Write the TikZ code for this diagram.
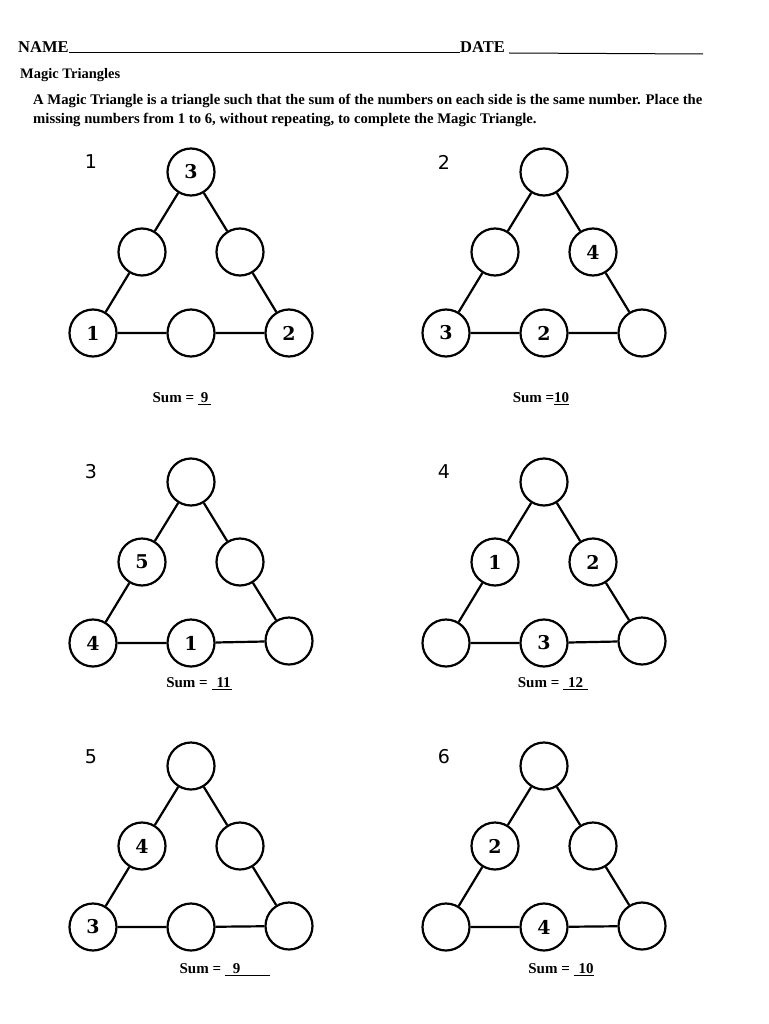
\documentclass[tikz,border=0pt]{standalone}
\usepackage{fontspec}
\setmainfont{Liberation Serif}
\newfontfamily\numfont{DejaVu Sans}
\newfontfamily\circfont{DejaVu Serif}
\tikzset{
  ball/.style={circle,draw,line width=2.2pt,minimum size=47pt,inner sep=0pt,font=\circfont\bfseries\fontsize{19}{19}\selectfont},
  edge/.style={line width=2.2pt},
  idx/.style={font=\numfont\fontsize{19}{19}\selectfont},
  sumlab/.style={font=\bfseries\fontsize{15}{15}\selectfont}
}
\newcommand\magictri[8]{%
  \node[ball] (#1t) at (#2,-#3) {#4};
  \node[ball] (#1ml) at (#2-49,-#3-80) {#5};
  \node[ball] (#1mr) at (#2+49,-#3-80) {#6};
  \node[ball] (#1bl) at (#2-98,-#3-161) {#7};
  \node[ball] (#1bm) at (#2,-#3-161) {#8};
}
\begin{document}
\begin{tikzpicture}[x=1pt,y=1pt]
\useasboundingbox (0,0) rectangle (768,-1024);
% header
\node[anchor=base west,inner sep=0pt,font=\bfseries\fontsize{16.5}{16.5}\selectfont] (name) at (18,-53) {NAME};
\node[anchor=base west,inner sep=0pt,font=\bfseries\fontsize{16.5}{16.5}\selectfont] (date) at (460,-53) {DATE};
\draw[line width=1pt] (name.base east) -- (date.base west);
\coordinate (dend) at (703,-54);
\draw[line width=1pt] ([xshift=4pt]date.base east) -- (dend);
\node[anchor=base west,inner sep=0pt,font=\bfseries\fontsize{14.5}{14.5}\selectfont] (title) at (20,-79) {Magic Triangles};
\node[anchor=north west,align=left,inner sep=0pt,font=\bfseries\fontsize{14.7}{18.5}\selectfont] (para) at (33,-94)
 {A Magic Triangle is a triangle such that the sum of the numbers on each side is the same number. Place the\\missing numbers from 1 to 6, without repeating, to complete the Magic Triangle.};

% triangles
\magictri{a}{191}{172}{3}{}{}{1}{}
\node[ball] (abr) at (289,-333) {2};
\magictri{b}{544}{172}{}{}{4}{3}{2}
\node[ball] (bbr) at (642,-333) {};
\magictri{c}{191}{482}{}{5}{}{4}{1}
\node[ball] (cbr) at (289,-641) {};
\magictri{d}{544}{482}{}{1}{2}{}{3}
\node[ball] (dbr) at (642,-641) {};
\magictri{e}{191}{766}{}{4}{}{3}{}
\node[ball] (ebr) at (289,-926) {};
\magictri{f}{544}{766}{}{2}{}{}{4}
\node[ball] (fbr) at (642,-926) {};

\foreach \p in {a,b,c,d,e,f}{
  \draw[edge] (\p t) -- (\p ml) -- (\p bl) -- (\p bm) -- (\p br) -- (\p mr) -- (\p t);
}

% indices
\node[idx] (i1) at (91,-162) {1};
\node[idx] (i2) at (444,-162) {2};
\node[idx] (i3) at (91,-472) {3};
\node[idx] (i4) at (444,-472) {4};
\node[idx] (i5) at (91,-757) {5};
\node[idx] (i6) at (444,-757) {6};

% sums
\node[sumlab] (s1) at (182,-399) {Sum = \underline{\hspace{3pt}9\hspace{3pt}}};
\node[sumlab] (s2) at (541,-399) {Sum =\underline{10}};
\node[sumlab] (s3) at (199,-684) {Sum = \underline{\hspace{5pt}11\hspace{1pt}}};
\node[sumlab] (s4) at (553,-684) {Sum = \underline{\hspace{5pt}12\hspace{5pt}}};
\node[sumlab] (s5) at (225,-970) {Sum = \underline{\hspace{8pt}9\hspace{30pt}}};
\node[sumlab] (s6) at (561,-970) {Sum = \underline{\hspace{5pt}10}};
\end{tikzpicture}
\end{document}
